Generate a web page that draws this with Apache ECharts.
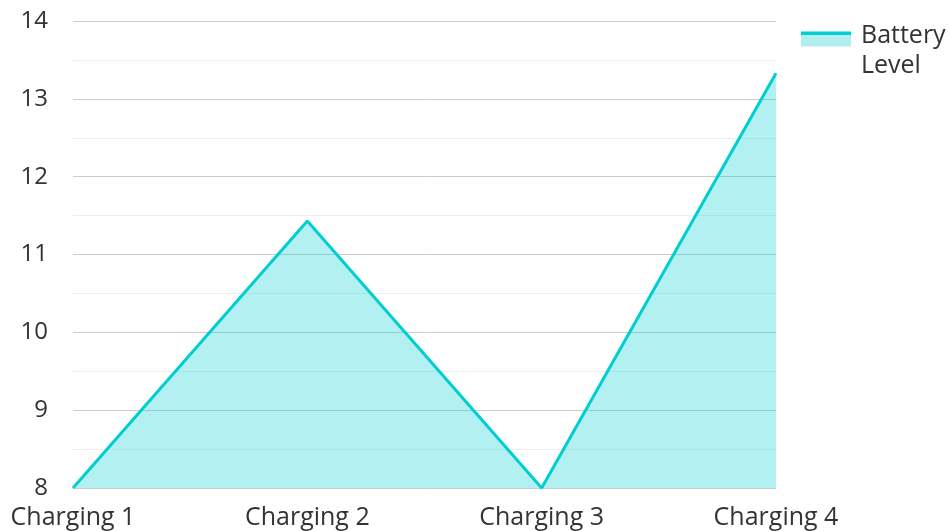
<!DOCTYPE html>
<html><head><meta charset="utf-8">
<script src="https://cdn.jsdelivr.net/npm/echarts@6/dist/echarts.min.js"></script>
<style>html,body{margin:0;padding:0;background:#fff}#c{width:949px;height:531px}</style>
</head><body><div id="c"></div>
<script>
const categories = ['Charging 1', 'Charging 2', 'Charging 3', 'Charging 4'];
const batteryLevel = [8, 11.43, 8, 13.33];
const seriesName = 'Battery Level';

const chart = echarts.init(document.getElementById('c'));
chart.setOption({
  animation: false,
  textStyle: { fontFamily: 'Open Sans' },
  grid: { left: 73, right: 173, top: 21, bottom: 43, containLabel: false },
  legend: {
    left: 801, top: -3, padding: 0,
    orient: 'vertical', align: 'left',
    itemWidth: 50, itemHeight: 15, itemGap: 0,
    icon: 'rect',
    itemStyle: {
      color: new echarts.graphic.LinearGradient(0, 0, 0, 1, [
        { offset: 0, color: '#00CED1' }, { offset: 0.22, color: '#00CED1' },
        { offset: 0.22, color: '#b2eeef' }, { offset: 1, color: '#b2eeef' }
      ])
    },
    formatter: function (n) {
      return '{s| }\n' + n.split(' ').map(function (w) { return '{t|' + w + '}'; }).join('\n');
    },
    textStyle: {
      fontFamily: 'Open Sans', color: '#333', align: 'left',
      rich: {
        s: { fontSize: 4, lineHeight: 24, height: 24 },
        t: { fontSize: 25, lineHeight: 30, color: '#333', fontFamily: 'Open Sans', padding: [0, 0, 0, 5] }
      }
    }
  },
  xAxis: {
    type: 'category', data: categories, boundaryGap: false,
    axisLine: { show: false }, axisTick: { show: false },
    axisLabel: { fontSize: 25, color: '#333', margin: 17 }
  },
  yAxis: {
    type: 'value', min: 8, max: 14, interval: 1,
    axisLine: { show: false }, axisTick: { show: false },
    axisLabel: { fontSize: 24, color: '#333', margin: 25 },
    splitLine: { lineStyle: { color: '#ccc' } },
    minorTick: { show: false, splitNumber: 2 },
    minorSplitLine: { show: true, lineStyle: { color: '#eee' } }
  },
  series: [{
    name: seriesName, type: 'line', data: batteryLevel,
    symbol: 'none',
    lineStyle: { color: '#00CED1', width: 3 },
    itemStyle: { color: '#00CED1' },
    areaStyle: { color: '#00CED1', opacity: 0.3 }
  }]
});
</script></body></html>
